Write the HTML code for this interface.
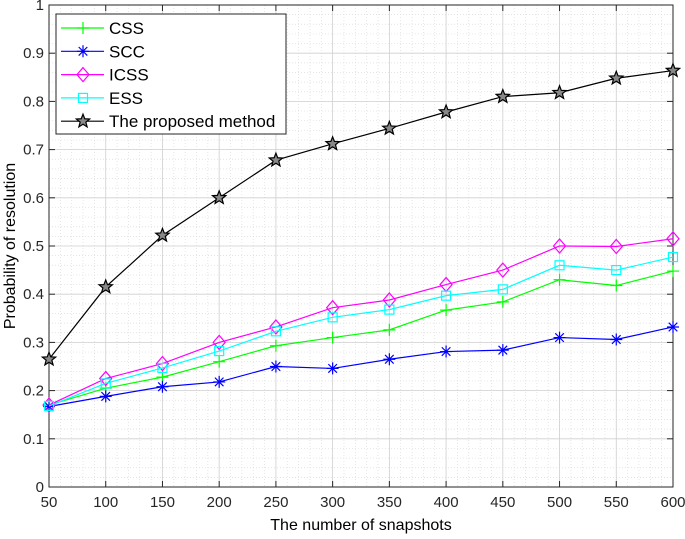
<!DOCTYPE html>
<html><head><meta charset="utf-8"><style>
body{margin:0;background:#fff;}
text{font-family:"Liberation Sans",Arial,sans-serif;}
</style></head><body>
<svg id="chart" width="685" height="534" xmlns="http://www.w3.org/2000/svg">
<g id="grid"></g>
<g id="axes"></g>
<g id="series"></g>
<text x="361" y="530" text-anchor="middle" font-size="16">The number of snapshots</text>
<text x="0" y="0" transform="translate(15,246) rotate(-90)" text-anchor="middle" font-size="16">Probability of resolution</text>
<g id="legend"></g>
</svg>
<script>
const xCats=[50,100,150,200,250,300,350,400,450,500,550,600];
const yTicks=[0,0.1,0.2,0.3,0.4,0.5,0.6,0.7,0.8,0.9,1];
const yTickLabels=["0","0.1","0.2","0.3","0.4","0.5","0.6","0.7","0.8","0.9","1"];
const seriesNames=["CSS","SCC","ICSS","ESS","The proposed method"];
const cssVals=[0.17,0.205,0.228,0.26,0.293,0.31,0.326,0.367,0.384,0.43,0.418,0.448];
const sccVals=[0.167,0.188,0.208,0.218,0.25,0.246,0.265,0.281,0.284,0.31,0.306,0.332];
const icssVals=[0.17,0.225,0.256,0.3,0.332,0.372,0.388,0.42,0.45,0.5,0.499,0.515];
const essVals=[0.168,0.215,0.247,0.282,0.323,0.352,0.368,0.397,0.41,0.46,0.45,0.477];
const propVals=[0.265,0.415,0.522,0.6,0.678,0.712,0.744,0.778,0.81,0.818,0.848,0.864];

const L=49,R=673,T=5,B=487;
const X=v=>L+(v-50)/550*(R-L);
const Y=v=>B-v*(B-T);
const NS="http://www.w3.org/2000/svg";
function mk(tag,parent,attrs){const e=document.createElementNS(NS,tag);for(const k in attrs)e.setAttribute(k,attrs[k]);parent.appendChild(e);return e;}
const grid=document.getElementById('grid'),axes=document.getElementById('axes'),ser=document.getElementById('series'),leg=document.getElementById('legend');
for(let v=50;v<=600;v+=10){const l=mk('line',grid,{x1:X(v),x2:X(v),y1:T,y2:B,stroke:'#dcdcdc','stroke-width':0.7,'stroke-dasharray':'1,2'});
}
for(let i=0;i<=50;i++){const v=i*0.02;const l=mk('line',grid,{x1:L,x2:R,y1:Y(v),y2:Y(v),stroke:'#dcdcdc','stroke-width':0.7,'stroke-dasharray':'1,2'});
}
xCats.forEach(v=>{const l=mk('line',grid,{x1:X(v),x2:X(v),y1:T,y2:B,stroke:'#d0d0d0','stroke-width':0.8});
});
yTicks.forEach(v=>{const l=mk('line',grid,{x1:L,x2:R,y1:Y(v),y2:Y(v),stroke:'#d0d0d0','stroke-width':0.8});
});
const box=mk('rect',axes,{x:L,y:T,width:R-L,height:B-T,fill:'none',stroke:'#262626','stroke-width':1});

xCats.forEach(v=>{mk('line',axes,{x1:X(v),x2:X(v),y1:B,y2:B-6,stroke:'#262626'});mk('line',axes,{x1:X(v),x2:X(v),y1:T,y2:T+6,stroke:'#262626'});
const t=mk('text',axes,{x:X(v),y:B+20,'text-anchor':'middle','font-size':15,fill:'#262626'});t.textContent=v;
});
yTicks.forEach((v,i)=>{mk('line',axes,{x1:L,x2:L+6,y1:Y(v),y2:Y(v),stroke:'#262626'});mk('line',axes,{x1:R,x2:R-6,y1:Y(v),y2:Y(v),stroke:'#262626'});
const t=mk('text',axes,{x:L-5,y:Y(v)+5,'text-anchor':'end','font-size':15,fill:'#262626'});t.textContent=yTickLabels[i];
});
function marker(g,type,x,y,c){
 if(type==='plus'){mk('path',g,{d:`M${x-6},${y}H${x+6}M${x},${y-6}V${y+6}`,stroke:c,'stroke-width':1.2,fill:'none'});}
 else if(type==='star'){mk('path',g,{d:`M${x-6},${y}H${x+6}M${x},${y-6}V${y+6}M${x-4.3},${y-4.3}L${x+4.3},${y+4.3}M${x-4.3},${y+4.3}L${x+4.3},${y-4.3}`,stroke:c,'stroke-width':1.2,fill:'none'});}
 else if(type==='diamond'){mk('path',g,{d:`M${x},${y-7}L${x+6},${y}L${x},${y+7}L${x-6},${y}Z`,stroke:c,'stroke-width':1.2,fill:'none'});}
 else if(type==='square'){mk('rect',g,{x:x-4.5,y:y-4.5,width:9,height:9,stroke:c,'stroke-width':1.2,fill:'none'});}
 else {let p='';for(let k=0;k<10;k++){const r=k%2?3:7;const a=-Math.PI/2+k*Math.PI/5;p+=(k?'L':'M')+(x+r*Math.cos(a))+','+(y+r*Math.sin(a));}
 mk('path',g,{d:p+'Z',stroke:c,'stroke-width':1.2,fill:'#888'});}
}
const defs=[[cssVals,'#00ff00','plus','series-css'],[sccVals,'#0000ff','star','series-scc'],[icssVals,'#ff00ff','diamond','series-icss'],[essVals,'#00ffff','square','series-ess'],[propVals,'#000000','pent','series-proposed']];
defs.forEach(([vals,c,m,name])=>{const g=mk('g',ser,{});
 mk('polyline',g,{points:vals.map((v,i)=>X(xCats[i])+','+Y(v)).join(' '),fill:'none',stroke:c,'stroke-width':1.2});
 vals.forEach((v,i)=>marker(g,m,X(xCats[i]),Y(v),c));});
const lb=mk('rect',leg,{x:56,y:14,width:230,height:120,fill:'#fff',stroke:'#262626','stroke-width':1});

defs.forEach(([vals,c,m,name],i)=>{const y=28+i*23.3;const g=mk('g',leg,{});
 mk('line',g,{x1:61,x2:104,y1:y,y2:y,stroke:c,'stroke-width':1.2});marker(g,m,83,y,c);
 const t=mk('text',g,{x:109,y:y+6,'font-size':17,fill:'#000'});t.textContent=seriesNames[i];});
</script>
</body></html>
